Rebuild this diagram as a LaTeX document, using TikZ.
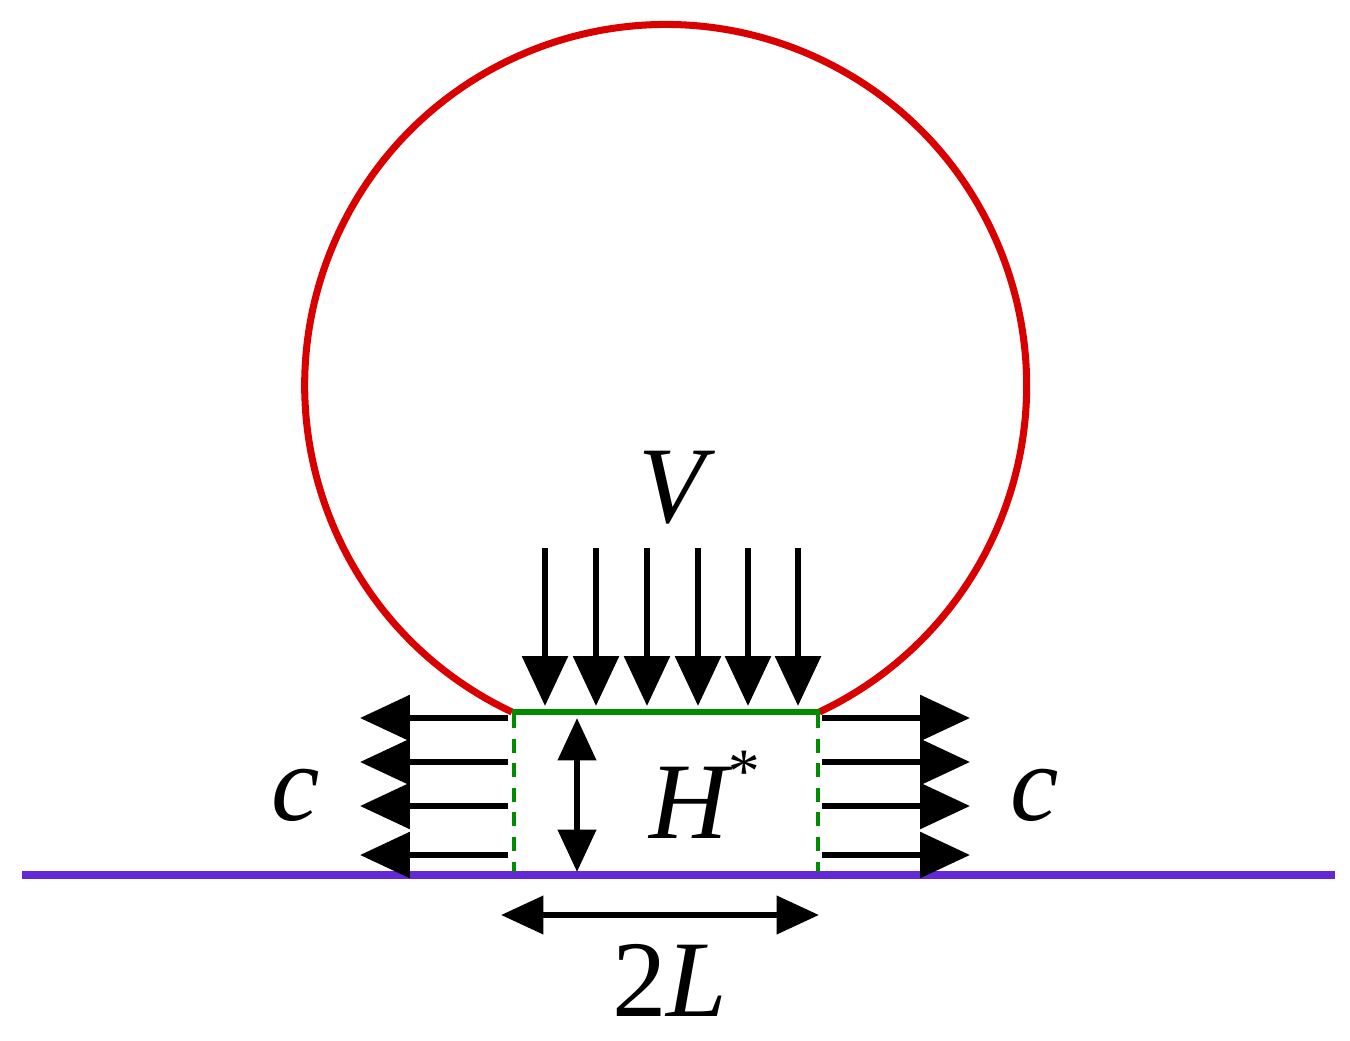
\documentclass[tikz,border=0pt]{standalone}
\usepackage{fontspec}
\setmainfont{Liberation Serif}
\usetikzlibrary{arrows.meta}
\definecolor{bl}{RGB}{100,40,215}
\begin{document}
\begin{tikzpicture}[x=0.02cm,y=-0.02cm,
  arr/.style={line width=3.5pt,-{Triangle[length=1cm,width=0.9cm]}},
  darr/.style={line width=3.5pt,{Triangle[length=0.85cm,width=0.75cm]}-{Triangle[length=0.85cm,width=0.75cm]}},
  lbl/.style={font=\fontsize{62}{62}\selectfont\itshape, inner sep=0pt}]
\useasboundingbox (0,0) rectangle (1350,1041);
\coordinate (pl) at (512,712);
\coordinate (pr) at (820,712);
\draw[red!85!black,line width=4pt] (pl) arc[start angle=244.8,end angle=-64.8,radius=7.22cm];
\draw[bl,line width=5pt] (22,875) coordinate (b1) -- (1335,875) coordinate (b2);
\draw[green!55!black,line width=3.5pt] (pl) -- (pr);
\draw[green!55!black,line width=2.5pt,dash pattern=on 8pt off 6pt] (514,714) coordinate (d1) -- (514,872) coordinate (d2);
\draw[green!55!black,line width=2.5pt,dash pattern=on 8pt off 6pt] (818,714) coordinate (d3) -- (818,872) coordinate (d4);
\foreach \x [count=\i] in {545,596,647,698,748,798} {
  \coordinate (t\i) at (\x,548); \coordinate (h\i) at (\x,706);
  \draw[arr] (t\i) -- (h\i);}
\foreach \y [count=\i] in {718,762,806,855} {
  \coordinate (ls\i) at (508,\y); \coordinate (le\i) at (360,\y);
  \coordinate (rs\i) at (822,\y); \coordinate (re\i) at (970,\y);
  \draw[arr] (ls\i) -- (le\i);
  \draw[arr] (rs\i) -- (re\i);}
\coordinate (va) at (577,718); \coordinate (vb) at (577,872);
\draw[darr] (va) -- (vb);
\coordinate (ha) at (501,915); \coordinate (hb) at (819,915);
\draw[darr] (ha) -- (hb);
\node[lbl] (V) at (672,488) {V};
\node[lbl] (H) at (705,795) {H\raisebox{0.42em}{\fontsize{36}{36}\selectfont\upshape *}};
\node[lbl] (c1) at (296,795) {c};
\node[lbl] (c2) at (1035,795) {c};
\node[lbl] (L) at (670,980) {\upshape 2\itshape L};
\end{tikzpicture}
\end{document}
